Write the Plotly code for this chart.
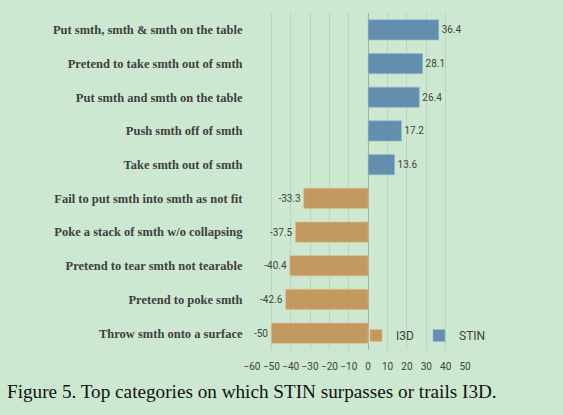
import plotly.graph_objects as go

# categories listed top to bottom, as in the reference
CATEGORIES = [
    "Put smth, smth & smth on the table",
    "Pretend to take smth out of smth",
    "Put smth and smth on the table",
    "Push smth off of smth",
    "Take smth out of smth",
    "Fail to put smth into smth as not fit",
    "Poke a stack of smth w/o collapsing",
    "Pretend to tear smth not tearable",
    "Pretend to poke smth",
    "Throw smth onto a surface",
]
STIN_CATS = CATEGORIES[:5]
STIN_VALUES = [36.4, 28.1, 26.4, 17.2, 13.6]
I3D_CATS = CATEGORIES[5:]
I3D_VALUES = [-33.3, -37.5, -40.4, -42.6, -50]
X_TICKS = [-60, -50, -40, -30, -20, -10, 0, 10, 20, 30, 40, 50]

BG = "#cde8d0"
BLUE = "rgba(84,129,168,0.88)"
ORANGE = "rgba(193,141,78,0.88)"
TEXT = "#404040"
SANS = "Roboto"
SERIF = "Liberation Serif"

fig = go.Figure()
fig.add_trace(go.Bar(
    y=I3D_CATS, x=I3D_VALUES, orientation="h", name="I3D",
    marker=dict(color=ORANGE, line=dict(color="rgba(220,190,140,0.7)", width=1)),
    text=[f"{v:g}" for v in I3D_VALUES], textposition="outside",
    textfont=dict(family=SANS, size=10, color=TEXT), cliponaxis=False,
))
fig.add_trace(go.Bar(
    y=STIN_CATS, x=STIN_VALUES, orientation="h", name="STIN",
    marker=dict(color=BLUE, line=dict(color="rgba(150,185,210,0.7)", width=1)),
    text=[f"{v:g}" for v in STIN_VALUES], textposition="outside",
    textfont=dict(family=SANS, size=10, color=TEXT), cliponaxis=False,
))

fig.update_layout(
    width=563, height=415,
    paper_bgcolor=BG, plot_bgcolor=BG,
    margin=dict(l=252, r=98, t=13, b=65, autoexpand=False),
    barmode="relative", bargap=0.4,
    showlegend=True,
    legend=dict(
        orientation="h", x=(368 - 252 - 12) / 213, y=0.0,
        xanchor="left", yanchor="bottom",
        bgcolor="rgba(0,0,0,0)", font=dict(family=SANS, size=12, color=TEXT),
        itemwidth=30, traceorder="normal",
    ),
    xaxis=dict(
        range=[-60, 50], tickvals=X_TICKS, showgrid=True, gridcolor="#b9d6bd",
        gridwidth=1, zeroline=True, zerolinecolor="#9db3a0", zerolinewidth=1,
        tickfont=dict(family=SANS, size=10, color=TEXT), fixedrange=True,
        ticks="", ticklabelstandoff=9, tickangle=0, automargin=False,
    ),
    yaxis=dict(
        categoryorder="array", categoryarray=CATEGORIES, autorange="reversed",
        tickfont=dict(family=SERIF, size=12.5, color=TEXT, weight="bold"),
        ticks="outside", ticklen=6, tickcolor="rgba(0,0,0,0)",
        showgrid=False, showline=False, automargin=False,
    ),
    annotations=[dict(
        text="Figure 5. Top categories on which STIN surpasses or trails I3D.",
        xref="paper", yref="paper", x=(5 - 252) / 213, y=-0.087,
        xanchor="left", yanchor="top", showarrow=False,
        font=dict(family=SERIF, size=19.2, color="#111111"),
    )],
)

fig.write_html(
    "out.html",
    config={"displayModeBar": False},
    post_script="document.body.style.margin='0';document.body.style.background='%s';" % BG,
)
